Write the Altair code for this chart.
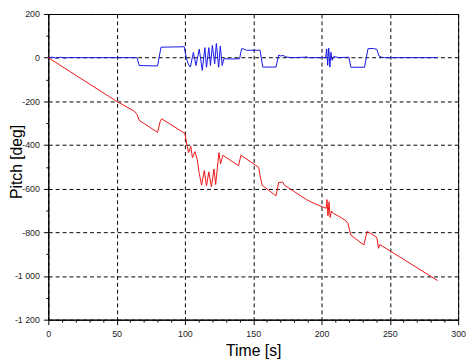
import altair as alt
import pandas as pd

# Blue series (time [s], pitch [deg])
blue_t = [0, 3, 6, 9, 12, 16, 20, 65, 66.5, 80, 82.5, 99.5, 101, 102.5, 104, 106.2,
          108.1, 110.5, 112.7, 114.6, 115.8, 117.5, 118.7, 120.1, 121.8, 123, 124.7,
          125.9, 127.3, 128.5, 134, 140, 141.5, 143, 145, 155, 157, 166.7, 168.6, 170,
          172, 174, 178, 188, 189, 190, 203, 203.8, 204.5, 205.3, 206.1, 206.9, 207.7,
          209, 213, 220, 221.5, 231.5, 234, 238, 240.5, 242, 244, 246, 285]
blue_v = [0, 2, -3, 2, -2, 1, 0, 0, -36, -38, 48, 50, 0, -30, -43, 24,
          -36, 39, -58, 46, -44, 46, -36, 56, -28, 65, -44,
          53, -36, -5, -6, -5, 41, 40, 34, 34, -43, -43, 12, 8,
          10, 3, 0, 2, 5, 0, 0, 40, -35, 44, -43, 25, -12,
          5, 0, 2, -44, -44, 41, 42, 38, 8, 2, 0, 0]

# Red series
red_t = [0, 50, 63, 65, 66.5, 80, 82, 83, 100, 101.5, 102.7, 104.3, 105.5, 107.4, 109,
         110.5, 112.2, 114.2, 115.8, 117.5, 119.4, 121.3, 122.5, 124.9, 126.1, 127.8,
         139.3, 141, 154, 155, 156.5, 166.7, 168.6, 171.5, 173, 177, 189, 194, 203.4,
         204, 204.7, 205.5, 206.3, 207.3, 208.6, 214.2, 217.8, 219.5, 220.5, 221.5,
         231, 233.3, 236, 240.5, 241.7, 242.7, 285]
red_v = [0, -200, -245, -260, -287, -342, -290, -280, -347, -400, -435, -406, -458, -430, -465,
         -530, -584, -517, -587, -523, -591, -510, -581, -435, -487, -447,
         -495, -447, -502, -540, -584, -633, -572, -570, -585, -601, -650, -666, -690,
         -650, -724, -660, -732, -702, -713, -732, -747, -761, -790, -813,
         -858, -796, -805, -824, -873, -856, -1021]

x_ticks = list(range(0, 301, 10))
y_ticks = list(range(-1200, 201, 100))

df = pd.concat([
    pd.DataFrame({"t": blue_t, "v": blue_v, "s": "blue"}),
    pd.DataFrame({"t": red_t, "v": red_v, "s": "red"}),
], ignore_index=True)

x_major = "datum.value % 50 === 0"
y_major = "datum.value % 200 === 0"

x_axis = alt.Axis(
    values=x_ticks,
    title="Time [s]",
    labelExpr=f"{x_major} ? format(datum.value, 'd') : ''",
    tickSize={"condition": {"test": x_major, "value": 5}, "value": 2.5},
    gridOpacity={"condition": {"test": x_major, "value": 1}, "value": 0},
    labelPadding=5,
    titleY=36,
    titleBaseline="alphabetic",
    labelFlush=False,
    labelOverlap=False,
)
y_axis = alt.Axis(
    values=y_ticks,
    title="Pitch [deg]",
    labelExpr=f"{y_major} ? replace(replace(format(datum.value, ','), ',', ' '), '\u2212', '-') : ''",
    tickSize={"condition": {"test": y_major, "value": 5}, "value": 2.5},
    gridOpacity={"condition": {"test": y_major, "value": 1}, "value": 0},
    labelPadding=4,
    titleX=-27,
    titleY=150,
    titleAngle=-90,
    titleAlign="center",
    titleBaseline="alphabetic",
    labelFlush=False,
    labelOverlap=False,
)

chart = alt.Chart(df).mark_line(strokeWidth=1).encode(
    x=alt.X("t:Q", scale=alt.Scale(domain=[0, 300], nice=False, zero=False), axis=x_axis),
    y=alt.Y("v:Q", scale=alt.Scale(domain=[-1200, 200], nice=False, zero=False), axis=y_axis),
    color=alt.Color("s:N", scale=alt.Scale(domain=["blue", "red"], range=["#1414e6", "#f01414"]), legend=None),
    detail="s:N",
).properties(
    width=417,
    height=311,
    autosize=alt.AutoSizeParams(type="none"),
    padding={"left": 41, "top": 3, "right": 8, "bottom": 42},
).configure_view(
    stroke="black", strokeWidth=1
).configure_axis(
    domainColor="black",
    tickColor="black",
    labelColor="#222222",
    labelFont="Liberation Sans",
    labelFontSize=9,
    titleFont="Liberation Sans",
    titleFontSize=16,
    titleFontWeight="normal",
    titleColor="black",
    gridColor="black",
    gridDash=[4, 3],
    gridWidth=1,
)

chart.save("out.html", embed_options={"renderer": "svg", "actions": False})
